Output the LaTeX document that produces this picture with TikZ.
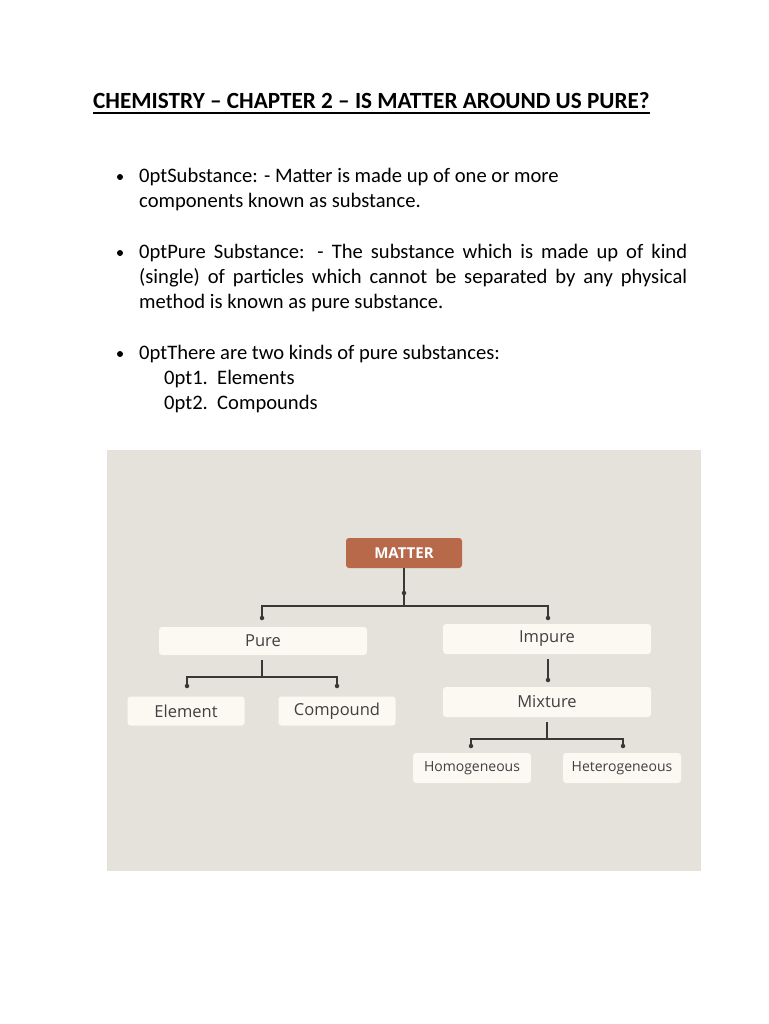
\documentclass[tikz,border=0pt]{standalone}
\usepackage{fontspec}
\setmainfont{Carlito}
\newfontfamily\diafont{Open Sans}
\definecolor{bgc}{HTML}{E5E2DB}
\definecolor{boxc}{HTML}{FCF9F3}
\definecolor{mat}{HTML}{B8694A}
\definecolor{lnc}{HTML}{3A3835}
\begin{document}
\begin{tikzpicture}[x=1pt,y=-1pt,
  bx/.style={fill=boxc,rounded corners=3pt,font=\diafont\fontsize{16.5}{18}\selectfont,text=black!75},
  ln/.style={draw=lnc,line width=1.1pt},
  dt/.style={fill=lnc,circle,inner sep=0pt,minimum size=4.5pt},
  para/.style={anchor=north west,inner sep=0pt,text width=548pt,align=justify,font=\fontsize{20.6}{25}\selectfont\hyphenpenalty=10000}]
\useasboundingbox (0,0) rectangle (768,1024);
\fill[white] (0,0) rectangle (768,1024);
\node[anchor=base west,inner sep=0pt,font=\bfseries\fontsize{23.2}{25}\selectfont] (title) at (93,109) {CHEMISTRY – CHAPTER 2 – IS MATTER AROUND US PURE?};
\draw[line width=1.6pt] (93,113) -- (title.base east |- 0,113);
\foreach \y/\n in {177/b1,253/b2,354/b3}{\node[circle,fill=black,inner sep=0pt,minimum size=6pt] (\n) at (120,\y) {};}
\node[para] (p1) at (139,168) {Substance: - Matter is made up of one or more\\components known as substance.};
\node[para] (p2) at (139,244) {Pure Substance: - The substance which is made up of kind\linebreak (single) of particles which cannot be separated by any physical\linebreak method is known as pure substance.};
\node[para] (p3) at (139,345) {There are two kinds of pure substances:};
\node[para] (p4) at (164,370) {1.\ \ Elements};
\node[para] (p5) at (164,395) {2.\ \ Compounds};
% diagram
\fill[bgc] (107,450) rectangle (701,871);
\node[fill=mat,rounded corners=3pt,minimum width=116pt,minimum height=30pt,text=white,font=\diafont\bfseries\fontsize{15}{17}\selectfont] (matter) at (404,553) {MATTER};
\node[bx,minimum width=208pt,minimum height=28pt] (pure) at (263,641) {Pure};
\node[bx,minimum width=208pt,minimum height=30pt] (impure) at (547,639) {Impure};
\node[bx,minimum width=117pt,minimum height=29pt] (element) at (186,711) {Element};
\node[bx,minimum width=117pt,minimum height=29pt] (compound) at (337,711) {Compound};
\node[bx,minimum width=208pt,minimum height=30pt] (mixture) at (547,702) {Mixture};
\node[bx,minimum width=118pt,minimum height=30pt,font=\diafont\fontsize{14}{16}\selectfont] (homo) at (472,768) {Homogeneous};
\node[bx,minimum width=118pt,minimum height=30pt,font=\diafont\fontsize{14}{16}\selectfont] (hetero) at (622,768) {Heterogeneous};
% connectors
\coordinate (m1) at (404,606);
\draw[ln] (matter.south) -- (m1);
\node[dt] at (404,593) {};
\draw[ln] (262,618) |- (m1) -| (548,618);
\node[dt] at (262,618) {}; \node[dt] at (548,618) {};
\coordinate (p1c) at (262,677);
\draw[ln] (262,660) -- (p1c);
\draw[ln] (187,686) |- (p1c) -| (337,686);
\node[dt] at (187,686) {}; \node[dt] at (337,686) {};
\draw[ln] (548,659) -- (548,680);
\node[dt] at (548,680) {};
\coordinate (x1c) at (547,739);
\draw[ln] (547,722) -- (x1c);
\draw[ln] (471,746) |- (x1c) -| (623,746);
\node[dt] at (471,746) {}; \node[dt] at (623,746) {};
\end{tikzpicture}
\end{document}
